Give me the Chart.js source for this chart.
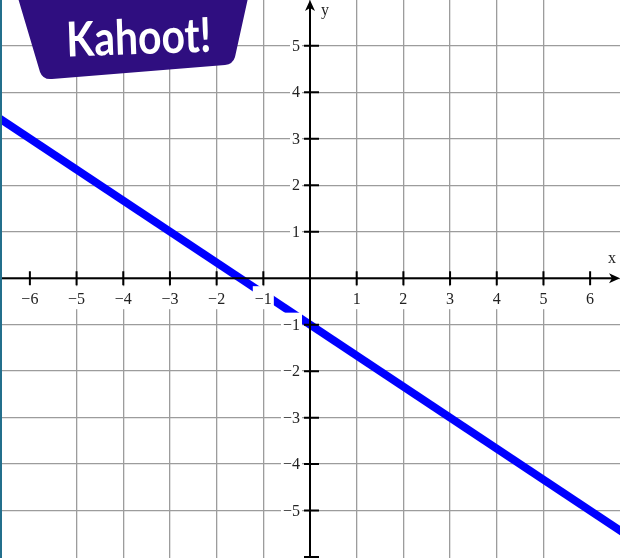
<!DOCTYPE html>
<html>
<head>
<meta charset="UTF-8">
<title>y = -2/3 x - 1</title>
<script src="https://cdn.jsdelivr.net/npm/chart.js"></script>
<style>
    body { margin: 0; background: #fff; }
    .wrap { position: relative; width: 620px; height: 558px; overflow: hidden; }
    .strip { position: absolute; left: 0; top: 0; width: 2px; height: 558px; background: #236f8c; }
    .logo { position: absolute; left: 0; top: 0; }
</style>
</head>
<body>
<div class="wrap">
    <canvas id="graph" width="620" height="558"></canvas>
    <div class="strip"></div>
    <svg class="logo" width="260" height="90">
        <path d="M18,-2 L248,-2 L235,57 Q233,64 225,65 L52,79 Q43,80 40,72 Z" fill="#2f0e80"/>
        <text x="66" y="54" font-family="Lato" font-weight="700" font-size="48" fill="#fff"
              textLength="145" lengthAdjust="spacingAndGlyphs" transform="rotate(-2 140 35)">Kahoot!</text>
    </svg>
</div>

<script>
// visible window of the plane
const xMin = -6.64, xMax = 6.64;
const yMin = -6.02, yMax = 5.985;

// tick labels
const xTicks = [-6, -5, -4, -3, -2, -1, 1, 2, 3, 4, 5, 6];
const yTicks = [-5, -4, -3, -2, -1, 1, 2, 3, 4, 5];
const yMarks = [-6, -5, -4, -3, -2, -1, 1, 2, 3, 4, 5];

// the graphed line
const lineX = [-7, 7];
const lineY = [3.67, -5.67];

function label(v) {
    return v < 0 ? '\u2212' + Math.abs(v) : String(v);
}

// axes, arrows, tick marks and boxed labels drawn on top of the line
const axesPlugin = {
    id: 'axes',
    afterDatasetsDraw(chart) {
        const ctx = chart.ctx;
        const a = chart.chartArea;
        const sx = chart.scales.x, sy = chart.scales.y;
        const x0 = sx.getPixelForValue(0), y0 = sy.getPixelForValue(0);
        ctx.save();
        ctx.strokeStyle = '#000';
        ctx.fillStyle = '#000';
        ctx.lineWidth = 2;

        ctx.beginPath();
        ctx.moveTo(a.left, y0); ctx.lineTo(a.right - 4, y0);
        ctx.moveTo(x0, a.bottom); ctx.lineTo(x0, a.top + 4);
        xTicks.forEach(v => {
            const px = sx.getPixelForValue(v);
            ctx.moveTo(px, y0 - 7); ctx.lineTo(px, y0 + 7);
        });
        yMarks.forEach(v => {
            const py = sy.getPixelForValue(v);
            ctx.moveTo(x0 - 6, py); ctx.lineTo(x0 + 9, py);
        });
        ctx.stroke();

        // arrow heads
        ctx.beginPath();
        ctx.moveTo(a.right, y0);
        ctx.lineTo(a.right - 11, y0 - 5);
        ctx.lineTo(a.right - 8, y0);
        ctx.lineTo(a.right - 11, y0 + 5);
        ctx.closePath();
        ctx.moveTo(x0, a.top);
        ctx.lineTo(x0 - 5, a.top + 11);
        ctx.lineTo(x0, a.top + 8);
        ctx.lineTo(x0 + 5, a.top + 11);
        ctx.closePath();
        ctx.fill();

        ctx.font = '16px "Liberation Serif"';
        ctx.textBaseline = 'middle';
        xTicks.forEach(v => {
            const px = sx.getPixelForValue(v);
            const t = label(v);
            const w = ctx.measureText(t).width;
            ctx.fillStyle = '#fff';
            ctx.fillRect(px - w / 2 - 2, y0 + 8, w + 4, 23);
            ctx.fillStyle = '#222';
            ctx.textAlign = 'center';
            ctx.fillText(t, px, y0 + 22);
        });
        yTicks.forEach(v => {
            const py = sy.getPixelForValue(v);
            const t = label(v);
            const w = ctx.measureText(t).width;
            ctx.fillStyle = '#fff';
            ctx.fillRect(x0 - 10 - w - 2, py - 12, w + 4, 24);
            ctx.fillStyle = '#222';
            ctx.textAlign = 'right';
            ctx.fillText(t, x0 - 10, py + 1);
        });

        ctx.textAlign = 'center';
        ctx.fillStyle = '#222';
        ctx.fillText('x', a.right - 8, y0 - 19);
        ctx.fillText('y', x0 + 15, a.top + 11);
        ctx.restore();
    }
};

function intOnly(scale) {
    scale.ticks = scale.ticks.filter(t => Number.isInteger(t.value));
}

const ctx = document.getElementById('graph').getContext('2d');
new Chart(ctx, {
    type: 'line',
    data: {
        datasets: [{
            data: lineX.map((x, i) => ({ x: x, y: lineY[i] })),
            borderColor: '#0000ff',
            borderWidth: 8,
            pointRadius: 0,
            borderCapStyle: 'butt',
            tension: 0
        }]
    },
    options: {
        responsive: false,
        animation: false,
        layout: { padding: 0 },
        plugins: { legend: { display: false }, tooltip: { enabled: false } },
        scales: {
            x: {
                type: 'linear', min: xMin, max: xMax,
                afterBuildTicks: intOnly,
                ticks: { display: false, stepSize: 1 },
                border: { display: false },
                grid: { color: '#9c9c9c', lineWidth: 1.3, drawTicks: false }
            },
            y: {
                type: 'linear', min: yMin, max: yMax,
                afterBuildTicks: intOnly,
                ticks: { display: false, stepSize: 1 },
                border: { display: false },
                grid: { color: '#9c9c9c', lineWidth: 1.3, drawTicks: false }
            }
        }
    },
    plugins: [axesPlugin]
});
</script>
</body>
</html>
